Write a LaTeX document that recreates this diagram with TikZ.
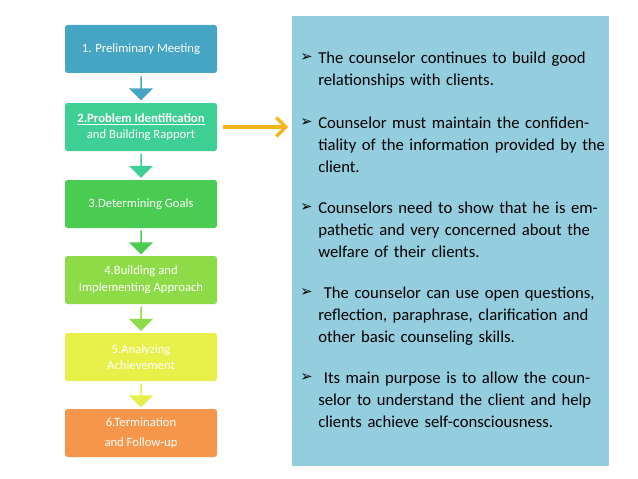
\documentclass[tikz,border=0pt]{standalone}
\usepackage{fontspec}
\setmainfont{Carlito}
\newfontfamily\dvs{DejaVu Sans}
\usetikzlibrary{shapes.arrows,calc,arrows.meta}
\definecolor{c1}{HTML}{45A5C2}
\definecolor{c2}{HTML}{3ECF95}
\definecolor{c3}{HTML}{4ACB52}
\definecolor{c4}{HTML}{8EDB48}
\definecolor{c5}{HTML}{E6F049}
\definecolor{c6}{HTML}{F5964B}
\definecolor{pan}{HTML}{94CDDE}
\definecolor{orn}{HTML}{F7B51C}
\begin{document}
\begin{tikzpicture}[x=0.75pt,y=-0.75pt,
 stp/.style={rounded corners=2pt,minimum width=114pt,minimum height=36pt,text=white,align=center,font=\fontsize{9.5}{12.5}\selectfont},
 fat/.style={single arrow,shape border rotate=270,minimum width=18pt,single arrow head extend=3pt,minimum height=18pt,inner sep=0pt},
 bul/.style={anchor=north west,text width=225pt,align=left,inner sep=0pt,font=\fontsize{12.5}{16.2}\selectfont}]
\useasboundingbox (0,0) rectangle (638,478);
\fill[pan] (292,16) rectangle (609,466);
\node[stp,fill=c1] (s1) at (141,49) {1. Preliminary Meeting};
\node[stp,fill=c2] (s2) at (141,127) {\textbf{\underline{2.Problem Identification}}\\and Building Rapport};
\node[stp,fill=c3] (s3) at (141,204) {3.Determining Goals};
\node[stp,fill=c4] (s4) at (141,280) {4.Building and\\Implementing Approach};
\node[stp,fill=c5] (s5) at (141,357) {5.Analyzing\\Achievement};
\node[stp,fill=c6] (s6) at (141,433) {6.Termination\\[3pt]and Follow-up};
\foreach \a/\b/\c in {s1/s2/c1,s2/s3/c2,s3/s4/c3,s4/s5/c4,s5/s6/c5}
  \node[fat,fill=\c] at ($(\a.south)!0.5!(\b.north)$) {};
\coordinate (pt) at (288,127);
\draw[orn,line width=2.5pt,-{Straight Barb[length=7pt,width=14pt]}] ($(s2.east)+(6,0)$) -- (pt);
\foreach \y/\t in {
 52/{The counselor continues to build good relationships with clients.},
 117/{Counselor must maintain the confidentiality of the information provided by the client.},
 202/{Counselors need to show that he is empathetic and very concerned about the welfare of their clients.},
 287/{\ The counselor can use open questions, reflection, paraphrase, clarification and other basic counseling skills.},
 372/{\ Its main purpose is to allow the counselor to understand the client and help clients achieve self-consciousness.}}
 {\node[anchor=north west,inner sep=0pt,font=\dvs\fontsize{11}{13}\selectfont] at (300,\y+1) {➢};
  \node[bul] at (318,\y) {\t};}
\end{tikzpicture}
\end{document}
